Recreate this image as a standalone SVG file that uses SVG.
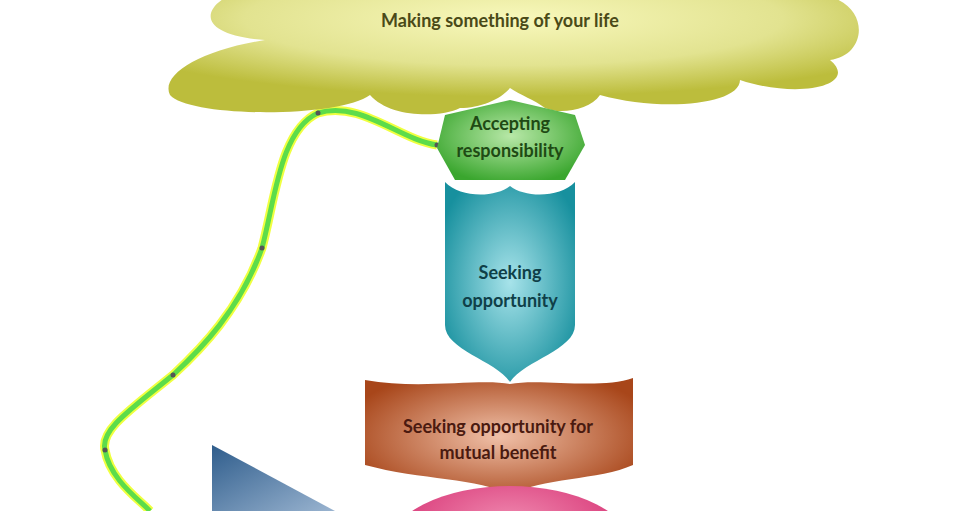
<svg xmlns="http://www.w3.org/2000/svg" width="974" height="511" viewBox="0 0 974 511">
<defs>
<radialGradient id="gc" cx="0.5" cy="0.2" r="0.65"><stop offset="0" stop-color="#f8f8bc"/><stop offset="0.6" stop-color="#e2e390"/><stop offset="1" stop-color="#bcbd3c"/></radialGradient>
<radialGradient id="gg" cx="0.5" cy="0.45" r="0.6"><stop offset="0" stop-color="#b8e8a8"/><stop offset="1" stop-color="#3aa62e"/></radialGradient>
<radialGradient id="gt" cx="0.5" cy="0.5" r="0.6"><stop offset="0" stop-color="#a7e3ea"/><stop offset="1" stop-color="#17909e"/></radialGradient>
<radialGradient id="gb" cx="0.5" cy="0.5" r="0.6"><stop offset="0" stop-color="#f0c0a8"/><stop offset="1" stop-color="#a8461a"/></radialGradient>
<radialGradient id="gp" cx="0.5" cy="0.3" r="0.6"><stop offset="0" stop-color="#f08ab0"/><stop offset="1" stop-color="#d42a6e"/></radialGradient>
<linearGradient id="gtr" x1="0" y1="0" x2="1" y2="1"><stop offset="0" stop-color="#2f5d8c"/><stop offset="1" stop-color="#9ab4d0"/></linearGradient>
<style>
text{font-family:"Lato","Open Sans",sans-serif;font-weight:bold;text-anchor:middle;font-size:18px}
.dot{fill:#555}
</style>
</defs>
<g id="connectors">
<path d="M437,145 C400,140 360,100 318,113 C280,130 275,200 262,248 C240,310 200,350 173,375 C130,410 100,430 105,450 C110,480 140,500 150,511" fill="none" stroke="#f0ff40" stroke-width="9"/>
<path d="M437,145 C400,140 360,100 318,113 C280,130 275,200 262,248 C240,310 200,350 173,375 C130,410 100,430 105,450 C110,480 140,500 150,511" fill="none" stroke="#5ddc4a" stroke-width="5"/>
<circle class="dot" cx="437" cy="145" r="2.5"/><circle class="dot" cx="318" cy="113" r="2.5"/><circle class="dot" cx="262" cy="248" r="2.5"/><circle class="dot" cx="173" cy="375" r="2.5"/><circle class="dot" cx="105" cy="450" r="2.5"/>
</g>
<g id="cloud">
<path d="M230,-5 L820,-5 C870,0 870,55 830,60 C860,85 800,100 740,80 C740,105 660,112 600,95 C590,110 560,115 545,108 C535,100 520,95 510,88 C500,100 480,108 460,108 C440,118 390,118 370,95 C340,118 190,118 170,95 C160,75 200,50 265,40 C200,35 200,10 230,-5 Z" fill="url(#gc)"/>
<text x="500" y="27" fill="#4a4a18">Making something of your life</text>
</g>
<g id="accepting">
<polygon points="510,100 445,115 437,148 455,180 565,180 585,145 575,115" fill="url(#gg)"/>
<text x="510" y="130" fill="#1f4a14">Accepting</text>
<text x="510" y="157" fill="#1f4a14">responsibility</text>
</g>
<g id="seeking">
<path d="M445,182 C460,198 495,198 510,186 C525,198 560,198 575,182 L575,325 C575,350 525,360 510,382 C495,360 445,350 445,325 Z" fill="url(#gt)"/>
<text x="510" y="279" fill="#0f3f48">Seeking</text>
<text x="510" y="307" fill="#0f3f48">opportunity</text>
</g>
<g id="mutual">
<path d="M365,380 C420,390 480,378 510,384 C540,378 600,390 633,378 L633,465 C600,480 540,478 510,495 C480,478 420,480 365,465 Z" fill="url(#gb)"/>
<text x="498" y="433" fill="#4a1a10">Seeking opportunity for</text>
<text x="498" y="459" fill="#4a1a10">mutual benefit</text>
</g>
<g id="pink"><ellipse cx="510" cy="548" rx="122" ry="62" fill="url(#gp)"/></g>
<g id="triangle"><polygon points="212,445 212,511 335,511" fill="url(#gtr)"/></g>
</svg>
